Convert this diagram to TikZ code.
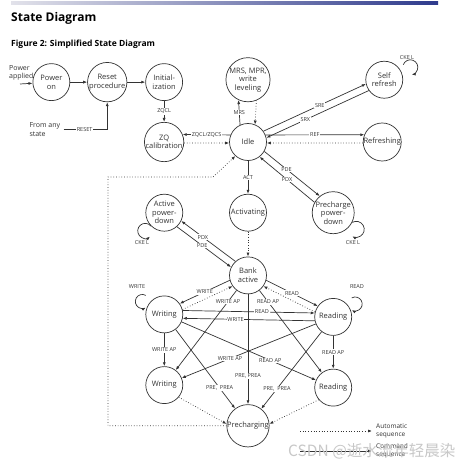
\documentclass[tikz,border=0pt]{standalone}
\usepackage{fontspec}
\setmainfont{Open Sans}
\newfontfamily\cjk{Noto Sans CJK SC}
\usepackage{xcolor}
\usetikzlibrary{arrows.meta,positioning}
\definecolor{ink}{HTML}{333333}
\definecolor{barlight}{HTML}{E2E2EA}
\definecolor{bardark}{HTML}{2E3A8C}
\definecolor{wmark}{HTML}{C8C8C8}

\begin{document}
\begin{tikzpicture}[x=1pt,y=1pt,font=\fontsize{7.5}{8.5}\selectfont,>={Latex[length=4pt,width=3pt]},node distance=21pt]
\tikzset{state/.style={draw=ink,circle,line width=0.7pt,minimum size=37pt,inner sep=0pt,align=center,text=ink}, lbl/.style={font=\fontsize{5.5}{6.5}\selectfont,fill=white,inner sep=0.8pt,text=ink}, note/.style={font=\fontsize{5.5}{6.5}\selectfont,inner sep=0pt,text=ink}, arr/.style={->,draw=ink,line width=0.7pt}, dotarr/.style={arr,dotted}}
\fill[white] (0,0) rectangle (474,-468);
\useasboundingbox (0,0) rectangle (474,-468);
% page header
\shade[left color=barlight,right color=bardark] (11,-2) rectangle (438,-5);
\node[anchor=base west,inner sep=0pt,font=\bfseries\fontsize{12}{14}\selectfont] (title) at (11,-22) {State Diagram};
\node[anchor=base west,inner sep=0pt,font=\bfseries\fontsize{8.5}{10}\selectfont] (caption) at (11,-47) {Figure 2: Simplified State Diagram};
% states
\node[state] (idle) at (248,-142) {Idle};
\node[state,left=45pt of idle] (zq) {ZQ\\calibration};
\node[state,right=96pt of idle] (refr) {Refreshing};
\node[state,above=21pt of idle] (mrs) {MRS, MPR,\\write\\leveling};
\node[state,above=21pt of zq] (init) {Initial-\\ization};
\node[state,left=18pt of init] (reset) {Reset\\procedure};
\node[state,left=17pt of reset] (pon) {Power\\on};
\node[state,right=95pt of mrs] (self) {Self\\refresh};
\node[state,below=33pt of idle] (actv) {Activating};
\node[state,left=46pt of actv] (apd) {Active\\power-\\down};
\node[state,right=45pt of actv] (ppd) {Precharge\\power-\\down};
\node[state,below=25pt of actv] (bank) {Bank\\active};
\node[state,below=64pt of apd] (wr1) {Writing};
\node[state,below=64pt of ppd] (rd1) {Reading};
\node[state,below=33pt of wr1] (wr2) {Writing};
\node[state,below=33pt of rd1] (rd2) {Reading};
\node[state,below=110pt of bank] (prech) {Precharging};
% entry points
\node[align=left,anchor=west,inner sep=0pt,text=ink,font=\fontsize{7}{8.5}\selectfont] (pwr) at (9,-73) {Power\\applied};
\coordinate (pin) at (20,-84);
\node[align=left,anchor=west,text=ink,font=\fontsize{7}{8.5}\selectfont] (any) at (26,-129.5) {From any\\state};
\draw[arr] (pin) -- (pon); \draw[arr] (pon) -- (reset); \draw[arr] (reset) -- (init);
\draw[arr] (any.east) -| (reset.south) node[lbl,pos=0.24] {RESET};
\draw[arr] (init) -- (zq) node[lbl,midway] {ZQCL};
\draw[arr] (idle.158) -- (zq.22) node[lbl,midway] {ZQCL/ZQCS};
\draw[dotarr] (zq.-3) -- (idle.183);
\draw[arr] (idle.115) -- (mrs.245) node[lbl,midway] {MRS};
\draw[dotarr] (mrs.-68) -- (idle.68);
\draw[arr] (idle.35) -- (self.193) node[lbl,pos=0.55] {SRE};
\draw[arr] (self.215) -- (idle.13) node[lbl,pos=0.62] {SRX};
\draw[arr] (idle.22) -- (refr.158) node[lbl,midway] {REF};
\draw[dotarr] (refr.183) -- (idle.-3);
\draw[arr] (idle) -- (actv) node[lbl,midway] {ACT};
\draw[arr] (idle.-30) -- (ppd.129) node[lbl,pos=0.4] {PDE};
\draw[arr] (ppd.151) -- (idle.-52) node[lbl,pos=0.5] {PDX};
\draw[arr] (bank.132) -- (apd.-26) node[lbl,pos=0.6] {PDX};
\draw[arr] (apd.-48) -- (bank.154) node[lbl,pos=0.47] {PDE};
\draw[dotarr] (actv) -- (bank);
% self loops
\draw[arr] (self.center) ++(19,15) arc[start angle=160,end angle=-80,radius=7.5pt];
\node[note] (ckes) at (407,-58) {CKE L};
\draw[arr] (apd.225) arc[start angle=40,end angle=310,radius=7.5pt];
\node[note] (ckea) at (142,-243) {CKE L};
\draw[arr] (ppd.-27) arc[start angle=120,end angle=-120,radius=8pt];
\node[note] (ckep) at (353,-243) {CKE L};
\draw[arr] (wr1.center) ++(-18.5,19) arc[start angle=60,end angle=300,radius=7pt];
\node[note] (wloop) at (137,-287) {WRITE};
\draw[arr] (rd1.center) ++(18.5,19) arc[start angle=120,end angle=-120,radius=7pt];
\node[note] (rloop) at (357,-287) {READ};
% bank active and data states
\draw[arr] (bank.195) -- (wr1.35) node[lbl,midway] {WRITE};
\draw[dotarr] (wr1.15) -- (bank.215);
\draw[arr] (bank.-15) -- (rd1.145) node[lbl,midway] {READ};
\draw[dotarr] (rd1.165) -- (bank.-35);
\draw[arr] (wr1.12) -- (rd1.168) node[lbl,pos=0.6] {READ};
\draw[arr] (rd1.192) -- (wr1.-12) node[lbl,pos=0.6] {WRITE};
\draw[arr] (wr1) -- (wr2) node[lbl,midway] {WRITE AP};
\draw[arr] (rd1) -- (rd2) node[lbl,midway] {READ AP};
\draw[arr] (bank) -- (wr2) node[lbl,pos=0.14] {WRITE AP};
\draw[arr] (bank) -- (rd2) node[lbl,pos=0.14] {READ AP};
\draw[arr] (rd1) -- (wr2) node[lbl,pos=0.64] {WRITE AP};
\draw[arr] (wr1) -- (rd2) node[lbl,pos=0.66] {READ AP};
\draw[arr] (bank) -- (prech) node[lbl,pos=0.74] {PRE, PREA};
\draw[arr] (wr1) -- (prech) node[lbl,pos=0.74] {PRE,\ \ PREA};
\draw[arr] (rd1) -- (prech) node[lbl,pos=0.74] {PRE,\ \ PREA};
\draw[dotarr] (wr2.-40) -- (prech.175);
\draw[dotarr] (rd2.220) -- (prech.5);
% back to idle
\coordinate (dl) at (108,-177);
\coordinate (dk) at (213,-177);
\draw[dotarr] (prech.west) -| (dl) -- (dk) -- (idle.228);
% legend
\coordinate (la) at (300,-431); \coordinate (lb) at (372,-431);
\coordinate (lc) at (300,-451); \coordinate (ld) at (372,-451);
\draw[dotarr] (la) -- (lb);
\node[align=left,anchor=west,inner sep=0pt,text=ink,font=\fontsize{6.5}{7.5}\selectfont] (lauto) at (376,-431) {Automatic\\sequence};
\draw[arr] (lc) -- (ld);
\node[align=left,anchor=west,inner sep=0pt,text=ink,font=\fontsize{6.5}{7.5}\selectfont] (lcmd) at (376,-451) {Command\\sequence};
\node[anchor=west,inner sep=0pt,text=wmark,font=\cjk\fontsize{15.5}{17}\selectfont] (wm) at (288,-451) {CSDN @逝水流年轻晨染};
\end{tikzpicture}
\end{document}
